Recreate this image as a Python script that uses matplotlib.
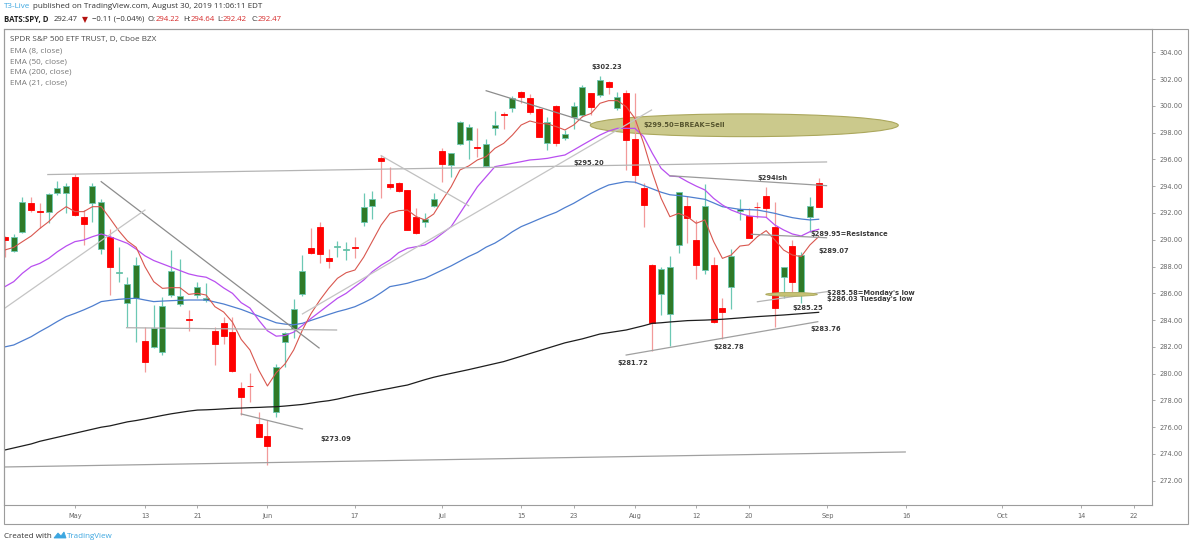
import matplotlib
matplotlib.use('Agg')
import matplotlib.pyplot as plt
from matplotlib.patches import Ellipse, Rectangle, Polygon
import pandas as pd
import numpy as np

W, H = 1190, 546

# trading days (NYSE) from Apr 18 to end of Oct 2019
holidays = ['2019-04-19', '2019-05-27', '2019-07-04', '2019-09-02']
days = pd.bdate_range('2019-04-18', '2019-10-31', freq='C', holidays=holidays)

# daily candles Apr 18 - Aug 30 2019
opens = [290.2, 289.19, 290.61, 292.77, 292.15, 292.1, 293.47, 293.47, 294.71, 291.68,
         292.77, 289.28, 290.18, 287.5, 285.3, 285.63, 282.46, 282.01, 281.64, 285.87,
         285.18, 284.07, 285.85, 285.5, 283.21, 283.76, 283.09, 278.9, 279.1, 276.24,
         275.34, 277.16, 282.39, 283.31, 285.92, 289.36, 290.98, 288.61, 289.43, 289.26,
         289.48, 291.35, 292.55, 296.1, 294.14, 294.21, 293.72, 291.73, 291.3, 292.55,
         296.65, 295.58, 297.15, 297.45, 296.95, 295.53, 298.37, 299.35, 299.81, 301.06,
         300.56, 299.74, 297.2, 300.0, 297.62, 299.14, 299.32, 300.93, 300.81, 301.81,
         299.86, 300.93, 297.53, 293.84, 288.11, 285.92, 284.46, 289.61, 292.55, 289.98,
         287.74, 288.09, 284.93, 286.5, 292.17, 291.77, 292.48, 293.27, 290.93, 287.24,
         289.53, 286.12, 291.72, 294.22]
highs = [290.28, 290.43, 293.17, 293.17, 292.72, 293.52, 294.41, 294.26, 294.91, 292.22,
         294.26, 293.02, 290.78, 289.43, 287.24, 288.69, 283.46, 285.13, 285.75, 289.23,
         288.55, 284.75, 286.87, 286.75, 283.51, 284.2, 284.2, 279.4, 280.02, 277.16,
         276.54, 280.7, 283.14, 285.55, 288.86, 290.85, 291.35, 289.28, 289.93, 289.86,
         290.18, 293.5, 293.64, 296.33, 295.46, 294.34, 293.75, 292.35, 291.97, 293.52,
         296.83, 296.5, 298.87, 298.64, 298.32, 297.5, 299.62, 299.57, 300.74, 301.11,
         300.86, 299.87, 299.19, 300.05, 298.2, 300.31, 301.56, 300.95, 302.23, 301.85,
         301.06, 301.18, 300.93, 294.21, 288.2, 288.0, 288.81, 293.6, 293.27, 291.48,
         294.16, 288.74, 285.68, 289.31, 293.02, 292.35, 292.85, 293.92, 292.85, 288.0,
         289.98, 289.11, 293.17, 294.64]
lows = [288.74, 289.11, 290.48, 292.1, 290.85, 291.28, 293.34, 291.97, 291.8, 289.61,
        291.35, 288.94, 285.87, 286.87, 283.46, 282.39, 280.15, 281.89, 281.39, 285.75,
        285.05, 283.19, 285.63, 285.38, 280.65, 282.19, 280.15, 276.9, 277.9, 275.25,
        273.18, 276.74, 280.52, 282.64, 285.8, 288.95, 288.24, 287.87, 288.69, 288.49,
        288.61, 291.05, 291.53, 293.14, 293.79, 293.6, 290.7, 290.45, 290.93, 292.47,
        294.34, 294.71, 297.08, 296.03, 296.21, 295.46, 297.82, 298.27, 299.52, 300.24,
        299.37, 297.65, 296.7, 297.0, 297.45, 298.27, 299.19, 299.3, 300.69, 300.86,
        299.69, 295.21, 294.21, 290.98, 281.72, 284.38, 282.09, 289.04, 289.73, 287.07,
        287.42, 283.8, 282.6, 284.8, 291.48, 290.1, 291.6, 291.72, 283.51, 285.62,
        286.08, 285.25, 290.6, 292.42]
closes = [290.0, 290.23, 292.85, 292.22, 292.08, 293.4, 293.89, 294.02, 291.85, 291.18,
          294.02, 292.8, 287.99, 287.6, 286.67, 288.11, 280.9, 283.44, 285.05, 287.69,
          285.82, 284.0, 286.5, 285.67, 282.19, 282.81, 280.22, 278.28, 279.05, 275.29,
          274.62, 280.52, 283.01, 284.8, 287.67, 288.98, 288.91, 288.41, 289.56, 289.31,
          289.36, 292.42, 293.04, 295.85, 293.96, 293.64, 290.73, 290.48, 291.53, 293.02,
          295.65, 296.45, 298.77, 298.4, 296.83, 297.15, 298.57, 299.3, 300.56, 300.69,
          299.57, 297.7, 298.77, 297.2, 297.87, 299.99, 301.43, 299.94, 301.93, 301.43,
          300.69, 297.45, 294.84, 292.6, 283.81, 287.82, 287.99, 293.59, 291.65, 288.11,
          292.55, 283.88, 284.63, 288.81, 292.32, 290.11, 292.42, 292.35, 284.88, 287.99,
          286.87, 288.86, 292.55, 292.47]

# moving averages as drawn (one value per bar)
ema8 = [289.24, 289.43, 289.86, 290.28, 290.85, 291.35, 292.02, 292.47, 292.1, 292.1,
        292.47, 292.47, 291.6, 290.68, 289.91, 289.43, 287.99, 286.87, 286.37, 286.42,
        286.42, 285.92, 286.0, 285.87, 285.0, 284.6, 283.85, 282.56, 281.77, 280.27,
        279.08, 280.07, 280.72, 281.77, 283.26, 284.5, 285.5, 286.37, 287.12, 287.54,
        287.74, 288.7, 289.9, 291.1, 291.97, 292.17, 292.22, 291.73, 291.48, 291.92,
        292.97, 293.96, 295.21, 295.51, 295.96, 296.21, 296.83, 297.2, 297.82, 298.57,
        298.87, 298.7, 298.65, 298.45, 298.2, 298.57, 299.19, 299.44, 300.19, 300.39,
        300.39, 299.94, 299.07, 297.2, 295.0, 293.09, 291.72, 291.97, 291.72, 291.23,
        291.48, 289.86, 288.61, 288.86, 289.53, 289.61, 290.23, 290.68, 289.98, 289.23,
        288.86, 288.74, 289.61, 290.23]
ema21 = [286.5, 286.87, 287.5, 288.0, 288.24, 288.61, 289.11, 289.53, 289.86, 289.98,
         290.23, 290.43, 290.23, 289.98, 289.73, 289.3, 288.8, 288.45, 288.2, 287.95,
         287.7, 287.45, 287.3, 287.2, 286.87, 286.4, 286.0, 285.3, 284.9, 284.0,
         283.2, 282.8, 282.85, 283.1, 283.6, 284.13, 284.63, 285.13, 285.63, 286.0,
         286.5, 286.99, 287.62, 288.1, 288.49, 289.04, 289.36, 289.48, 289.61, 289.98,
         290.48, 290.98, 291.97, 292.97, 293.96, 294.71, 295.46, 295.58, 295.71, 295.83,
         295.96, 296.01, 296.08, 296.21, 296.33, 296.7, 297.08, 297.45, 297.82, 298.12,
         298.32, 298.32, 298.32, 297.7, 296.45, 295.33, 294.76, 294.71, 294.34, 294.01,
         293.72, 293.09, 292.6, 292.22, 291.97, 291.78, 291.72, 291.68, 291.1, 290.73,
         290.43, 290.28, 290.6, 290.78]
ema50 = [282.0, 282.14, 282.45, 282.76, 283.15, 283.51, 283.9, 284.26, 284.5, 284.76,
         285.05, 285.38, 285.47, 285.55, 285.6, 285.63, 285.5, 285.38, 285.42, 285.45,
         285.48, 285.5, 285.5, 285.5, 285.35, 285.2, 285.0, 284.8, 284.55, 284.3,
         284.05, 283.8, 283.7, 283.65, 283.76, 283.98, 284.2, 284.42, 284.63, 284.8,
         285.0, 285.3, 285.63, 286.05, 286.5, 286.62, 286.75, 286.95, 287.12, 287.43,
         287.74, 288.05, 288.4, 288.75, 289.05, 289.45, 289.75, 290.15, 290.6, 290.98,
         291.25, 291.53, 291.8, 292.05, 292.4, 292.72, 293.1, 293.47, 293.8, 294.09,
         294.22, 294.34, 294.3, 294.05, 293.8, 293.55, 293.36, 293.3, 293.22, 293.12,
         293.02, 292.75, 292.47, 292.37, 292.27, 292.25, 292.22, 292.1, 291.97, 291.8,
         291.65, 291.55, 291.48, 291.53]
ema200 = [274.3, 274.45, 274.6, 274.75, 274.95, 275.1, 275.25, 275.4, 275.55, 275.7,
          275.85, 276.0, 276.1, 276.25, 276.4, 276.5, 276.62, 276.75, 276.88, 277.0,
          277.1, 277.2, 277.28, 277.3, 277.33, 277.37, 277.41, 277.43, 277.46, 277.48,
          277.51, 277.53, 277.58, 277.64, 277.7, 277.8, 277.9, 277.98, 278.1, 278.25,
          278.4, 278.52, 278.65, 278.78, 278.9, 279.03, 279.15, 279.35, 279.55, 279.73,
          279.88, 280.02, 280.16, 280.3, 280.45, 280.6, 280.75, 280.9, 281.1, 281.3,
          281.5, 281.7, 281.9, 282.1, 282.3, 282.45, 282.6, 282.78, 282.96, 283.06,
          283.16, 283.26, 283.42, 283.58, 283.76, 283.8, 283.86, 283.91, 283.96, 283.98,
          284.0, 284.03, 284.06, 284.11, 284.16, 284.21, 284.26, 284.3, 284.34, 284.38,
          284.43, 284.48, 284.53, 284.58]

# hand-drawn trend lines: (bar0, price0, bar1, price1, colour)
trendlines = [
    (4.9, 294.87, 93.9, 295.81, '#b4b4b4'),
    (11.0, 294.34, 35.9, 281.92, '#8c8c8c'),
    (0.0, 284.90, 16.0, 292.22, '#c4c4c4'),
    (13.9, 283.43, 37.9, 283.26, '#b0b0b0'),
    (27.0, 276.99, 34.0, 275.87, '#9a9a9a'),
    (0.0, 273.03, 102.9, 274.15, '#a0a0a0'),
    (34.0, 284.46, 73.9, 299.69, '#c4c4c4'),
    (43.0, 296.28, 53.0, 292.54, '#c0c0c0'),
    (55.0, 301.13, 66.9, 298.72, '#8c8c8c'),
    (76.0, 294.78, 93.9, 294.04, '#9a9a9a'),
    (85.3, 290.41, 93.9, 290.15, '#9a9a9a'),
    (86.0, 285.37, 93.9, 286.12, '#b4b4b4'),
    (71.0, 281.39, 92.9, 283.88, '#a0a0a0'),
]

# price notes: (text, bar, price, horizontal alignment)
notes = [
    ('$302.23', 68.8, 302.92, 'center'),
    ('$295.20', 66.7, 295.71, 'center'),
    ('$294ish', 87.7, 294.59, 'center'),
    ('$289.95=Resistance', 92.1, 290.43, 'left'),
    ('$289.07', 93.0, 289.18, 'left'),
    ("$285.58=Monday's low", 94.0, 286.00, 'left'),
    ("$286.03 Tuesday's low", 94.0, 285.55, 'left'),
    ('$285.25', 91.8, 284.88, 'center'),
    ('$283.76', 92.1, 283.31, 'left'),
    ('$282.78', 82.7, 282.01, 'center'),
    ('$281.72', 71.8, 280.82, 'center'),
    ('$273.09', 37.8, 275.10, 'center'),
]

tick_dates = ['2019-05-01', '2019-05-13', '2019-05-21', '2019-06-03', '2019-06-17',
              '2019-07-01', '2019-07-15', '2019-07-23', '2019-08-01', '2019-08-12',
              '2019-08-20', '2019-09-03', '2019-09-16', '2019-10-01', '2019-10-14',
              '2019-10-22']
tick_labels = ['May', '13', '21', 'Jun', '17', 'Jul', '15', '23', 'Aug', '12', '20',
               'Sep', '16', 'Oct', '14', '22']

UP_BODY, UP_WICK = '#2f7a28', '#6cc8b4'
DN_BODY, DN_WICK = '#ff0000', '#f29a9a'

fig = plt.figure(figsize=(W / 100, H / 100), dpi=100)
fig.patch.set_facecolor('white')

def fx(px):
    return px / W

def fy(py):
    return 1 - py / H

ax = fig.add_axes([fx(4), fy(505), fx(1152) - fx(4), fy(29) - fy(505)])
ax.set_xlim(-0.11, 131.1)
ax.set_ylim(270.19, 305.74)

n = len(closes)
idx = np.arange(n)
o = np.array(opens); c = np.array(closes)
hi = np.array(highs); lo = np.array(lows)
up = c >= o

# candles
ax.vlines(idx[up], lo[up], hi[up], color=UP_WICK, lw=0.9, zorder=2)
ax.vlines(idx[~up], lo[~up], hi[~up], color=DN_WICK, lw=0.9, zorder=2)
body_lo = np.minimum(o, c)
body_h = np.maximum(np.abs(c - o), 0.06)
ax.bar(idx[up], body_h[up], bottom=body_lo[up], width=0.68, color=UP_BODY,
       edgecolor=UP_WICK, linewidth=0.6, zorder=3)
ax.bar(idx[~up], body_h[~up], bottom=body_lo[~up], width=0.68, color=DN_BODY,
       edgecolor=DN_BODY, linewidth=0.6, zorder=3)

# moving averages
ax.plot(idx, ema200, color='#1e1e1e', lw=0.9, zorder=4)
ax.plot(idx, ema50, color='#4f7fcf', lw=0.9, zorder=4)
ax.plot(idx, ema21, color='#b94ff0', lw=0.9, zorder=4)
ax.plot(idx, ema8, color='#d9574f', lw=0.8, zorder=4)

# drawings
for x0, y0, x1, y1, col in trendlines:
    ax.plot([x0, x1], [y0, y1], color=col, lw=0.9, zorder=5)

ax.add_patch(Ellipse((84.5, 298.55), 35.2, 1.70, facecolor='#cbc98c',
                     edgecolor='#aba75c', lw=0.8, zorder=1))
ax.add_patch(Ellipse((89.9, 285.92), 5.9, 0.28, facecolor='#c6c274',
                     edgecolor='#aba75c', lw=0.6, zorder=5))
ax.text(77.6, 298.55, '$299.50=BREAK=Sell', fontsize=4.9, fontweight='bold',
        color='#56552e', ha='center', va='center', zorder=6)

for txt, bx, py, ha in notes:
    ax.text(bx, py, txt, fontsize=4.9, fontweight='bold', color='#3a3a3a',
            ha=ha, va='center', zorder=6)

# axes styling
for s in ax.spines.values():
    s.set_color('#9c9c9c')
    s.set_linewidth(0.8)
ax.yaxis.tick_right()
ax.set_yticks(np.arange(272, 305, 2))
ax.set_yticklabels([f'{v:.2f}' for v in np.arange(272, 305, 2)])
tick_pos = [days.get_loc(pd.Timestamp(d)) for d in tick_dates]
ax.set_xticks(tick_pos)
ax.set_xticklabels(tick_labels)
ax.tick_params(axis='y', length=2.5, width=0.6, color='#9c9c9c', pad=3,
               labelsize=4.8, labelcolor='#666666')
ax.tick_params(axis='x', length=2.5, width=0.6, color='#9c9c9c', pad=3,
               labelsize=4.8, labelcolor='#666666')

# outer frame of the chart pane
fig.add_artist(Rectangle((fx(4), fy(524)), fx(1188) - fx(4), fy(29) - fy(524),
                         transform=fig.transFigure, fill=False,
                         edgecolor='#9c9c9c', lw=0.8))

# header
hfont = 'Open Sans'
HS = 5.75
fig.text(fx(4), fy(7), 'T3-Live', color='#3ca6e0', fontsize=HS,
         family=hfont, va='center')
fig.text(fx(33), fy(7), 'published on TradingView.com, August 30, 2019 11:06:11 EDT',
         color='#333333', fontsize=HS, family=hfont, va='center')
row2 = [
    (4, 'BATS:SPY, D', '#222222', 'bold'),
    (54, '292.47', '#333333', 'normal'),
    (82, '\u25BC', '#b3120f', 'normal'),
    (92, '\u22120.11 (\u22120.04%)', '#333333', 'normal'),
    (147, 'O:', '#333333', 'normal'),
    (156, '294.22', '#d62a2a', 'normal'),
    (183, 'H:', '#333333', 'normal'),
    (191, '294.64', '#d62a2a', 'normal'),
    (217, 'L:', '#333333', 'normal'),
    (223, '292.42', '#d62a2a', 'normal'),
    (251, 'C:', '#333333', 'normal'),
    (258, '292.47', '#d62a2a', 'normal'),
]
for px, txt, col, wt in row2:
    fam = ['DejaVu Sans'] if txt == '\u25BC' else [hfont, 'DejaVu Sans']
    fig.text(fx(px), fy(19.5), txt, color=col, fontsize=5.6, fontweight=wt,
             family=fam, va='center')

legend_rows = [
    ('SPDR S&P 500 ETF TRUST, D, Cboe BZX', '#4a4a4a', 39.5),
    ('EMA (8, close)', '#777777', 51),
    ('EMA (50, close)', '#777777', 61.7),
    ('EMA (200, close)', '#777777', 72),
    ('EMA (21, close)', '#777777', 82.7),
]
for txt, col, py in legend_rows:
    fig.text(fx(10), fy(py), txt, color=col, fontsize=5.9, family=hfont, va='center')

# footer
fig.add_artist(Polygon([[fx(54), fy(538)], [fx(58), fy(533)], [fx(61), fy(536)],
                        [fx(64), fy(532)], [fx(66), fy(538)]],
                       closed=True, transform=fig.transFigure,
                       facecolor='#3ca6e0', edgecolor='#3ca6e0', lw=0.6))
fig.text(fx(4), fy(536), 'Created with', color='#333333', fontsize=5.8,
         family=hfont, va='center')
fig.text(fx(67), fy(536), 'TradingView', color='#3ca6e0', fontsize=5.8,
         family=hfont, va='center')

fig.savefig('out.png', dpi=100, facecolor='white')
